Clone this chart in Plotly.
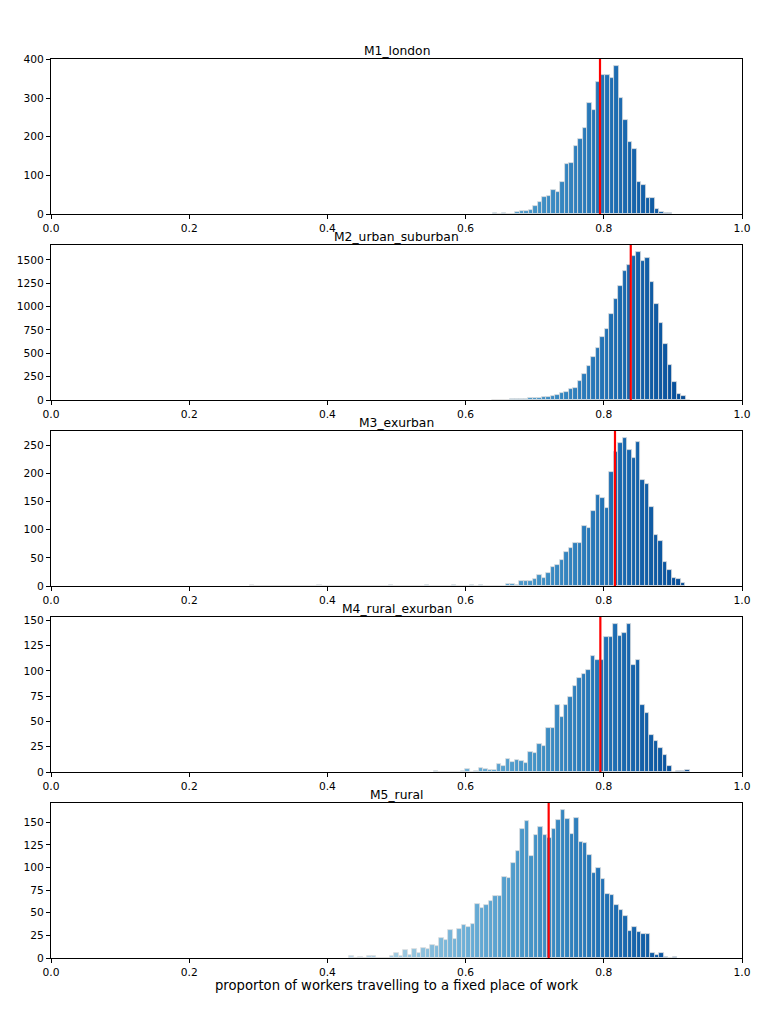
import plotly.graph_objects as go
from plotly.subplots import make_subplots

# ---------------- data ----------------
panel_titles = ["M1_london", "M2_urban_suburban", "M3_exurban", "M4_rural_exurban", "M5_rural"]
bin_width = 0.0065

# left edge of the first bin of each panel
m1_first_left = 0.6394
m2_first_left = 0.6388
m3_first_left = 0.2876
m4_first_left = 0.5539
m5_first_left = 0.4319

m1_counts = [2, 0, 2, 0, 0, 6, 8, 8, 10, 22, 31, 45, 47, 62, 58, 84, 129, 131, 176, 193,
             223, 288, 268, 341, 361, 361, 351, 382, 300, 244, 187, 167, 84, 74, 42, 41, 13, 6, 3, 2]

m2_counts = [2, 3, 3, 5,
             7, 11, 11, 14, 18, 21, 25, 29, 36, 46, 57, 71, 86, 114, 132, 207, 279, 368, 457, 554,
             672, 757, 922, 1079, 1225, 1386, 1447, 1543, 1580, 1489, 1518, 1268, 1029, 822, 600,
             375, 193, 64, 46, 4]

m3_counts = ([1] + [0] * 14 + [1] + [0] * 15 + [1] + [0] * 7 + [1] + [0] * 5 + [1] + [0] * 3 + [1, 0, 2] + [0] * 5 +
             [3, 4, 2, 9, 9, 9, 13, 20, 15, 23, 34, 38, 46, 61, 67, 76, 77, 106, 103, 133,
              161, 157, 138, 202, 238, 253, 262, 242, 227, 255, 189, 181, 140, 90, 80, 43, 29, 15, 12, 5])

m4_counts = [1, 0, 0, 0, 0, 0,
             1, 3, 0, 1, 4, 3, 2, 2, 8, 6, 13, 10, 12, 11, 9, 20, 19, 28, 26, 44, 44, 66, 54, 66,
             74, 85, 93, 97, 101, 115, 111, 111, 134, 134, 146, 135, 137, 146, 106, 111, 66, 58,
             37, 31, 24, 17, 6, 0, 1, 1, 2]

m5_counts = [2, 0, 1, 0, 2, 2, 0, 0, 0, 2, 5, 2, 9, 3, 10, 5, 11, 10, 14, 13, 22, 20, 31, 21,
             32, 36, 34, 38, 60, 55, 59, 63, 69, 68, 89, 88, 105, 118, 142, 151, 113, 136, 145,
             136, 133, 142, 152, 163, 153, 137, 155, 128, 127, 114, 94, 99, 87, 71, 70, 59, 53,
             46, 30, 34, 29, 27, 26, 6, 3, 6, 1, 0, 1]

# reference (red) line per panel
ref_lines = [0.7945, 0.839, 0.8162, 0.795, 0.7202]

y_dticks = [100, 250, 50, 25, 25]
x_ticks = [0.0, 0.2, 0.4, 0.6, 0.8, 1.0]
x_label = "proporton of workers travelling to a fixed place of work"

# colour normalisation range of the x value
color_lo, color_hi = 0.2, 1.0

first_lefts = [m1_first_left, m2_first_left, m3_first_left, m4_first_left, m5_first_left]
all_counts = [m1_counts, m2_counts, m3_counts, m4_counts, m5_counts]

# ---------------- colormap (matplotlib Blues) ----------------
BLUES = ["#f7fbff", "#deebf7", "#c6dbef", "#9ecae1", "#6baed6",
         "#4292c6", "#2171b5", "#08519c", "#08306b"]


def hex2rgb(h):
    h = h.lstrip("#")
    return tuple(int(h[i:i + 2], 16) for i in (0, 2, 4))


def blues(v):
    v = min(max(v, 0.0), 1.0)
    pos = v * (len(BLUES) - 1)
    i = int(pos)
    if i >= len(BLUES) - 1:
        r, g, b = hex2rgb(BLUES[-1])
        return f"rgb({r},{g},{b})"
    t = pos - i
    c1, c2 = hex2rgb(BLUES[i]), hex2rgb(BLUES[i + 1])
    r, g, b = [round(a + (b_ - a) * t) for a, b_ in zip(c1, c2)]
    return f"rgb({r},{g},{b})"


# ---------------- figure ----------------
W, H = 768, 1024
ml, mr, mt, mb = 51, 26, 59, 66
plot_h = H - mt - mb
gap = 31
fig = make_subplots(rows=5, cols=1, vertical_spacing=gap / plot_h)

FONT = "DejaVu Sans"
for k in range(5):
    row = k + 1
    counts = all_counts[k]
    lefts = [first_lefts[k] + i * bin_width for i in range(len(counts))]
    centers = [l + bin_width / 2 for l in lefts]
    colors = [blues((l - color_lo) / (color_hi - color_lo)) for l in lefts]
    fig.add_trace(go.Bar(
        x=centers, y=counts, width=bin_width,
        marker=dict(color=colors, line=dict(color="rgb(222,222,222)", width=0.8)),
        showlegend=False, hoverinfo="x+y"), row=row, col=1)

    ymax = max(counts) * 1.05
    fig.update_xaxes(range=[0, 1], tickvals=x_ticks, tickformat=".1f",
                     showline=True, mirror=True, linecolor="#000", linewidth=1,
                     ticks="outside", ticklen=4, tickcolor="#000", tickwidth=1,
                     showgrid=False, zeroline=False,
                     tickfont=dict(family=FONT, size=10.7, color="#000"),
                     row=row, col=1)
    fig.update_yaxes(range=[0, ymax], dtick=y_dticks[k], tick0=0,
                     showline=True, mirror=True, linecolor="#000", linewidth=1,
                     ticks="outside", ticklen=4, tickcolor="#000", tickwidth=1,
                     showgrid=False, zeroline=False,
                     tickfont=dict(family=FONT, size=10.7, color="#000"),
                     row=row, col=1)

    xref = "x" if k == 0 else f"x{k + 1}"
    yref = "y" if k == 0 else f"y{k + 1}"
    fig.add_shape(type="line", xref=xref, yref=f"{yref} domain",
                  x0=ref_lines[k], x1=ref_lines[k], y0=0, y1=1,
                  line=dict(color="red", width=2.2), layer="above")

    dom = fig.layout[f"yaxis{'' if k == 0 else k + 1}"].domain
    fig.add_annotation(text=panel_titles[k], xref="paper", yref="paper",
                       x=0.5, y=dom[1], xanchor="center", yanchor="bottom",
                       yshift=0, borderpad=0, showarrow=False,
                       font=dict(family=FONT, size=12.3, color="#000"))

fig.add_annotation(text=x_label, xref="paper", yref="paper", x=0.5, y=0,
                   xanchor="center", yanchor="middle", yshift=-27, showarrow=False,
                   font=dict(family=FONT, size=13.2, color="#000"))

fig.update_layout(width=W, height=H, margin=dict(l=ml, r=mr, t=mt, b=mb),
                  paper_bgcolor="white", plot_bgcolor="white", bargap=0,
                  font=dict(family=FONT, color="#000"))

fig.write_html("out.html")
